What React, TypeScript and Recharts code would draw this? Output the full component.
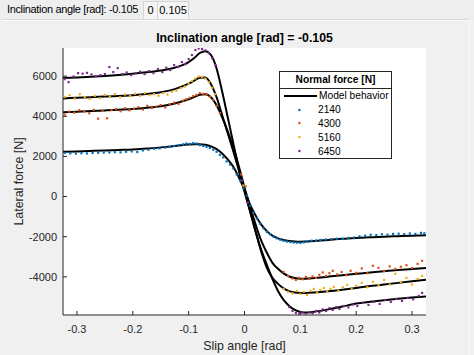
import React from 'react';
import { ComposedChart, Line, Scatter, XAxis, YAxis, CartesianGrid, Legend, Label } from 'recharts';

const FONT = '"Liberation Sans", Arial, sans-serif';
const AXIS = '#262626';

// slip angle grid [rad] for the model curves
const slip = [
  -0.325, -0.3, -0.275, -0.25, -0.225, -0.2, -0.175, -0.15, -0.125, -0.1,
  -0.09, -0.08, -0.07, -0.06, -0.05, -0.04, -0.03, -0.02, -0.01, 0,
  0.01, 0.02, 0.03, 0.04, 0.05, 0.06, 0.07, 0.08, 0.09, 0.1,
  0.11, 0.125, 0.15, 0.175, 0.2, 0.225, 0.25, 0.275, 0.3, 0.325,
];

// model lateral force [N]
const model2140 = [
  2230, 2250, 2275, 2300, 2325, 2350, 2390, 2450, 2520, 2590,
  2610, 2610, 2580, 2500, 2360, 2150, 1850, 1480, 950, 350,
  -400, -950, -1400, -1720, -1950, -2080, -2160, -2210, -2240, -2250,
  -2240, -2220, -2160, -2100, -2060, -2030, -2000, -1975, -1950, -1930,
];
const model4300 = [
  4200, 4230, 4260, 4290, 4320, 4360, 4420, 4500, 4640, 4850,
  4960, 5070, 5100, 4950, 4550, 3950, 3250, 2450, 1500, 450,
  -500, -1400, -2200, -2800, -3300, -3600, -3830, -3980, -4060, -4090,
  -4090, -4060, -3990, -3920, -3850, -3780, -3720, -3660, -3610, -3560,
];
const model5160 = [
  4890, 4920, 4950, 4980, 5010, 5050, 5110, 5200, 5350, 5620,
  5780, 5920, 5930, 5600, 4950, 4050, 3150, 2250, 1300, 300,
  -700, -1750, -2750, -3550, -4050, -4350, -4570, -4710, -4780, -4800,
  -4800, -4780, -4720, -4640, -4550, -4460, -4380, -4300, -4220, -4140,
];
const model6450 = [
  5900, 5930, 5970, 6010, 6060, 6120, 6190, 6280, 6420, 6700,
  6900, 7150, 7240, 7050, 6380, 5230, 3950, 2650, 1350, 250,
  -750, -1750, -2650, -3400, -4100, -4700, -5150, -5450, -5650, -5750,
  -5780, -5740, -5620, -5480, -5330, -5240, -5160, -5090, -5030, -4980,
];

// measured points [slip, force]
const meas2140: [number, number][] = [
  [-0.322, 2170], [-0.312, 2150], [-0.302, 2140], [-0.292, 2160], [-0.282, 2150], [-0.272, 2170],
  [-0.262, 2180], [-0.252, 2190], [-0.242, 2200], [-0.232, 2210], [-0.222, 2200], [-0.212, 2230],
  [-0.202, 2250], [-0.192, 2220], [-0.182, 2300], [-0.172, 2330], [-0.162, 2380], [-0.152, 2400],
  [-0.142, 2440], [-0.134, 2470], [-0.126, 2520], [-0.118, 2560], [-0.11, 2600], [-0.104, 2640],
  [-0.098, 2620], [-0.092, 2660], [-0.086, 2640], [-0.08, 2560], [-0.074, 2520], [-0.068, 2480],
  [-0.062, 2420], [-0.056, 2330], [-0.05, 2230], [-0.044, 2080], [-0.038, 1950], [-0.032, 1750],
  [-0.026, 1600], [-0.02, 1400], [-0.014, 1100], [-0.008, 800], [-0.002, 400], [0.004, 50],
  [0.01, -450], [0.016, -800], [0.022, -1100], [0.028, -1350], [0.034, -1580], [0.04, -1760],
  [0.046, -1880], [0.052, -2000], [0.058, -2080], [0.064, -2150], [0.07, -2200], [0.076, -2240],
  [0.082, -2270], [0.088, -2290], [0.094, -2300], [0.1, -2310], [0.106, -2280], [0.112, -2240],
  [0.12, -2200], [0.128, -2190], [0.136, -2160], [0.146, -2140], [0.156, -2120], [0.166, -2100],
  [0.176, -2110], [0.186, -2060], [0.196, -2040], [0.206, -1980], [0.216, -1950], [0.226, -1900],
  [0.236, -1920], [0.246, -1880], [0.256, -1900], [0.266, -1860], [0.276, -1850], [0.286, -1870],
  [0.296, -1840], [0.306, -1860], [0.316, -1810], [0.322, -1830],
];
const meas4300: [number, number][] = [
  [-0.322, 4080], [-0.314, 4230], [-0.305, 4180], [-0.296, 4300], [-0.287, 4240], [-0.278, 4150],
  [-0.27, 4320], [-0.262, 3880], [-0.254, 4270], [-0.246, 3900], [-0.238, 4310], [-0.23, 4360],
  [-0.222, 4250], [-0.214, 4400], [-0.206, 4300], [-0.198, 4380], [-0.19, 4450], [-0.182, 4330],
  [-0.174, 4520], [-0.166, 4410], [-0.158, 4480], [-0.15, 4560], [-0.142, 4440], [-0.134, 4600],
  [-0.126, 4680], [-0.118, 4620], [-0.11, 4780], [-0.104, 4850], [-0.098, 4920], [-0.092, 5000],
  [-0.086, 5060], [-0.08, 5150], [-0.074, 5110], [-0.068, 5080], [-0.062, 4980], [-0.056, 4800],
  [-0.05, 4520], [-0.044, 4150], [-0.006, 1100], [0.002, 500],
  [0.07, -3750], [0.078, -3950], [0.086, -4080], [0.092, -4150], [0.098, -4050], [0.104, -4120],
  [0.11, -4000], [0.116, -4100], [0.122, -3980], [0.128, -4050], [0.134, -3900], [0.14, -3780],
  [0.146, -3950], [0.152, -3820], [0.158, -3700], [0.166, -3880], [0.174, -3760], [0.182, -3920],
  [0.19, -3700], [0.2, -3800], [0.21, -3580], [0.22, -3820], [0.23, -3450], [0.24, -3550],
  [0.25, -3700], [0.26, -3480], [0.27, -3600], [0.28, -3500], [0.29, -3420], [0.3, -3560],
  [0.31, -3350], [0.318, -3200],
];
const meas5160: [number, number][] = [
  [-0.322, 4960], [-0.313, 5050], [-0.304, 4880], [-0.295, 5100], [-0.286, 4950], [-0.277, 4870],
  [-0.268, 5020], [-0.259, 4900], [-0.25, 5060], [-0.241, 4980], [-0.232, 5100], [-0.223, 4950],
  [-0.214, 5080], [-0.205, 5000], [-0.196, 5120], [-0.187, 5020], [-0.178, 5150], [-0.17, 5050],
  [-0.162, 5100], [-0.154, 5020], [-0.146, 5150], [-0.138, 5080], [-0.13, 5220], [-0.122, 5280],
  [-0.114, 5400], [-0.107, 5480], [-0.1, 5620], [-0.094, 5760], [-0.088, 5880], [-0.082, 5980],
  [-0.076, 5960], [-0.07, 5880], [-0.064, 5700], [-0.058, 5420], [-0.052, 5100], [-0.002, 550],
  [0.07, -4600], [0.078, -4750], [0.086, -4820], [0.094, -4700], [0.1, -4850], [0.106, -4750],
  [0.112, -4900], [0.118, -4700], [0.124, -4600], [0.13, -4780], [0.136, -4650], [0.142, -4550],
  [0.148, -4720], [0.154, -4600], [0.16, -4500], [0.168, -4680], [0.176, -4520], [0.184, -4400],
  [0.192, -4600], [0.2, -4450], [0.21, -4300], [0.22, -4520], [0.23, -4250], [0.24, -4400],
  [0.25, -4150], [0.26, -4380], [0.27, -3850], [0.28, -4250], [0.29, -4050], [0.3, -4380],
  [0.31, -4100], [0.318, -3950],
];
const meas6450: [number, number][] = [
  [-0.322, 5850], [-0.315, 5700], [-0.306, 5980], [-0.298, 6150], [-0.29, 6120], [-0.282, 6160],
  [-0.274, 6080], [-0.266, 6000], [-0.258, 6050], [-0.25, 6100], [-0.242, 6450], [-0.235, 6200],
  [-0.227, 6400], [-0.219, 6100], [-0.211, 6180], [-0.203, 6050], [-0.195, 6150], [-0.187, 6220],
  [-0.179, 6100], [-0.171, 6250], [-0.163, 6150], [-0.155, 6350], [-0.147, 6200], [-0.14, 6420],
  [-0.133, 6300], [-0.126, 6550], [-0.119, 6450], [-0.112, 6700], [-0.106, 6600], [-0.1, 6850],
  [-0.094, 7050], [-0.088, 7300], [-0.082, 7380], [-0.076, 7350], [-0.07, 7280], [-0.064, 7150],
  [-0.058, 6900], [-0.052, 6550], [-0.004, 800], [0.006, -300],
  [0.08, -5500], [0.086, -5700], [0.092, -5800], [0.098, -5850], [0.104, -5780], [0.11, -5870],
  [0.116, -5760], [0.122, -5820], [0.128, -5700], [0.134, -5780], [0.14, -5620], [0.146, -5700],
  [0.152, -5560], [0.158, -5650], [0.164, -5500], [0.17, -5600], [0.178, -5450], [0.186, -5520],
  [0.194, -5380], [0.202, -5450], [0.212, -5300], [0.222, -5400], [0.232, -5250], [0.242, -5350],
  [0.252, -5150], [0.262, -5250], [0.272, -5100], [0.282, -5200], [0.292, -5050], [0.302, -5120],
  [0.312, -4950], [0.318, -4800],
];

const loads = ['2140', '4300', '5160', '6450'];
const colors = ['#0072BD', '#D95319', '#EDB120', '#7E2F8E'];
const models = [model2140, model4300, model5160, model6450];
const measured = [meas2140, meas4300, meas5160, meas6450];

const xTicks = [-0.3, -0.2, -0.1, 0, 0.1, 0.2, 0.3];
const yTicks = [-4000, -2000, 0, 2000, 4000, 6000];
const xDomain = [-0.325, 0.325];
const yDomain = [-5900, 7400];
const inclinations = ['-0.105', '0', '0.105'];

const dotShape = (color: string) => (p: any) => (
  <rect x={p.cx - 1.1} y={p.cy - 1.1} width={2.2} height={2.2} fill={color} />
);

// tick marks only, no label (for the top/right box edges)
const noLabel = () => <g />;

const renderLegend = () => (
  <div
    style={{
      width: 111,
      border: `1px solid ${AXIS}`,
      background: '#fff',
      fontFamily: FONT,
      fontSize: 10.2,
      color: '#000',
    }}
  >
    <div
      style={{
        height: 16,
        lineHeight: '16px',
        textAlign: 'center',
        fontWeight: 'bold',
        borderBottom: `1px solid ${AXIS}`,
      }}
    >
      Normal force [N]
    </div>
    <div style={{ height: 13.8, display: 'flex', alignItems: 'center' }}>
      <svg width={39} height={4} style={{ display: 'block' }}>
        <line x1={4} x2={37} y1={2} y2={2} stroke="#000" strokeWidth={2} />
      </svg>
      <span>Model behavior</span>
    </div>
    {loads.map((l, i) => (
      <div key={l} style={{ height: 13.8, display: 'flex', alignItems: 'center' }}>
        <svg width={38} height={4} style={{ display: 'block' }}>
          <rect x={18.3} y={0.9} width={2.2} height={2.2} fill={colors[i]} />
        </svg>
        <span>{l}</span>
      </div>
    ))}
  </div>
);

export default function App() {
  return (
    <div
      style={{
        position: 'absolute',
        left: 0,
        top: 0,
        width: 474,
        height: 355,
        background: '#f0f0f0',
        overflow: 'hidden',
        fontFamily: FONT,
      }}
    >
      {/* inclination selector bar */}
      <div style={{ position: 'absolute', left: 0, top: 0, width: 474, height: 19, background: '#eeeeee' }}>
        <span
          style={{
            position: 'absolute',
            left: 7,
            top: 3,
            fontSize: 11,
            letterSpacing: -0.35,
            color: '#000',
            whiteSpace: 'nowrap',
          }}
        >
          Inclination angle [rad]: {inclinations[0]}
        </span>
        <div
          style={{
            position: 'absolute', left: 143, top: 1, width: 13, height: 17,
            border: '1px solid #d4d4d4', background: '#f5f5f5', fontSize: 11,
            textAlign: 'center', lineHeight: '17px',
          }}
        >
          {inclinations[1]}
        </div>
        <div
          style={{
            position: 'absolute', left: 157, top: 1, width: 30, height: 17,
            border: '1px solid #d4d4d4', background: '#f5f5f5', fontSize: 11,
            textAlign: 'center', lineHeight: '17px',
          }}
        >
          {inclinations[2]}
        </div>
      </div>
      <div
        style={{
          position: 'absolute', left: 2, top: 19, width: 467, height: 340,
          borderTop: '1px solid #d8d8d8', borderRight: '1px solid #fafafa',
          boxShadow: 'inset 0 1px 0 #fbfbfb',
        }}
      />

      <div style={{ position: 'absolute', left: 0, top: 0 }}>
        <ComposedChart width={474} height={355} margin={{ top: 48, right: 48, bottom: 0, left: 0 }}>
          <CartesianGrid horizontal={false} vertical={false} fill="#ffffff" />
          <XAxis
            xAxisId="b"
            type="number"
            dataKey="s"
            domain={xDomain}
            ticks={xTicks}
            allowDataOverflow
            height={40}
            stroke={AXIS}
            tickSize={-4}
            tickMargin={14}
            tick={{ fill: AXIS, fontSize: 11, fontFamily: FONT }}
          >
            <Label
              content={(p: any) => {
                const cx = p.viewBox.x + p.viewBox.width / 2;
                return (
                  <g>
                    <text x={cx} y={350} textAnchor="middle" fontSize={12.4} fontFamily={FONT} fill={AXIS}>
                      Slip angle [rad]
                    </text>
                    <text
                      x={cx}
                      y={41.8}
                      textAnchor="middle"
                      fontSize={12.3}
                      fontWeight="bold"
                      fontFamily={FONT}
                      fill="#000"
                    >
                      Inclination angle [rad] = {inclinations[0]}
                    </text>
                  </g>
                );
              }}
            />
          </XAxis>
          <XAxis
            xAxisId="t"
            orientation="top"
            type="number"
            dataKey="s"
            domain={xDomain}
            ticks={xTicks}
            allowDataOverflow
            height={0}
            stroke={AXIS}
            tickSize={-4}
            tick={noLabel}
          />
          <YAxis
            yAxisId="l"
            type="number"
            dataKey="f"
            domain={yDomain}
            ticks={yTicks}
            allowDataOverflow
            width={63}
            stroke={AXIS}
            tickSize={-4}
            tickMargin={10}
            tick={{ fill: AXIS, fontSize: 11, fontFamily: FONT }}
          >
            <Label
              content={(p: any) => {
                const cy = p.viewBox.y + p.viewBox.height / 2;
                return (
                  <text
                    x={18.5}
                    y={cy}
                    transform={`rotate(-90 18.5 ${cy})`}
                    textAnchor="middle"
                    dominantBaseline="central"
                    fontSize={12.4}
                    fontFamily={FONT}
                    fill={AXIS}
                  >
                    Lateral force [N]
                  </text>
                );
              }}
            />
          </YAxis>
          <YAxis
            yAxisId="r"
            orientation="right"
            type="number"
            dataKey="f"
            domain={yDomain}
            ticks={yTicks}
            allowDataOverflow
            width={0}
            stroke={AXIS}
            tickSize={-4}
            tick={noLabel}
          />

          {measured.map((pts, i) => (
            <Scatter
              key={`m${i}`}
              xAxisId="b"
              yAxisId="l"
              data={pts.map(([s, f]) => ({ s, f }))}
              dataKey="f"
              fill={colors[i]}
              shape={dotShape(colors[i])}
              isAnimationActive={false}
            />
          ))}
          {models.map((vals, i) => (
            <Line
              key={`l${i}`}
              xAxisId="b"
              yAxisId="l"
              data={slip.map((s, j) => ({ s, f: vals[j] }))}
              dataKey="f"
              type="monotone"
              stroke="#000"
              strokeWidth={2}
              dot={false}
              activeDot={false}
              isAnimationActive={false}
            />
          ))}

          <Legend
            layout="vertical"
            align="center"
            verticalAlign="middle"
            content={renderLegend}
            wrapperStyle={{ left: 279, top: 71, width: 'auto', height: 'auto' }}
          />
        </ComposedChart>
      </div>
    </div>
  );
}
